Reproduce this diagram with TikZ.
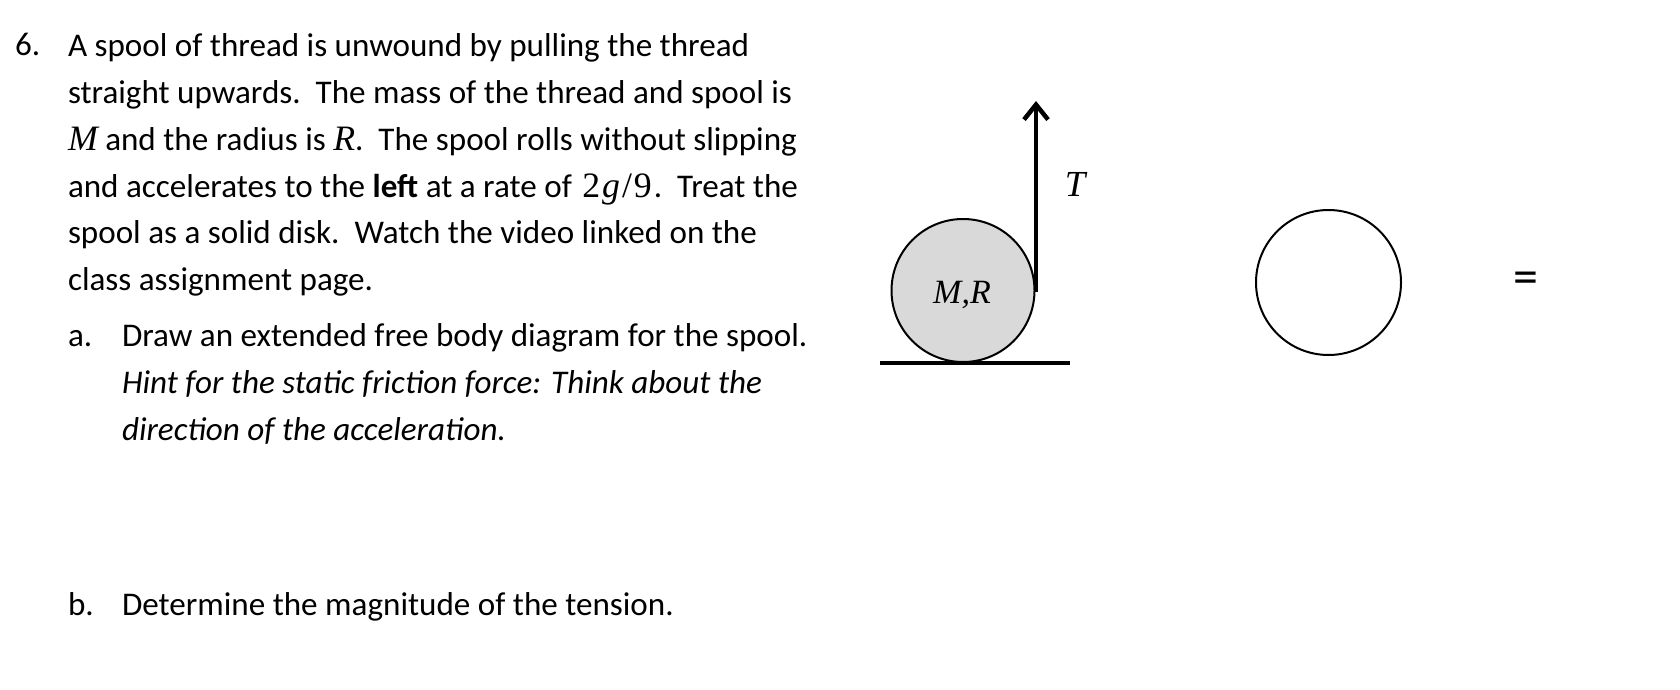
\documentclass[tikz,border=0pt]{standalone}
\usepackage{fontspec}
\setmainfont{Carlito}
\newfontfamily\mathserif[Scale=1.08]{Liberation Serif}
\usetikzlibrary{arrows.meta}

\newcommand{\mvar}[1]{{\mathserif\itshape #1}}

\begin{document}
\begin{tikzpicture}[x=1pt,y=-1pt,inner sep=0pt,outer sep=0pt,
textline/.style={anchor=base west,align=left,font=\fontsize{33.1}{46.7}\selectfont},
spoolcircle/.style={draw,circle,minimum size=143pt,line width=2pt},
forcearrow/.style={-{Straight Barb[length=15pt,width=24pt,line width=4.5pt]},line width=4pt},
symlabel/.style={font=\fontsize{31.5}{36}\selectfont\mathserif\itshape}]
\useasboundingbox (0,0) rectangle (1680,690);
\draw (15,56) node[textline] (num6) {6.};
\draw (68,55) node[textline,anchor=north west,yshift=21pt] (stem) {A spool of thread is unwound by pulling the thread\\
straight upwards.\ \ The mass of the thread and spool is\\
\mvar{M} and the radius is \mvar{R}.\ \ The spool rolls without slipping\\
and accelerates to the \textbf{left} at a rate of\hspace{3pt} {\mathserif 2\hspace{2pt}\mvar{g}\hspace{2pt}/\hspace{2pt}9}\hspace{2pt}.\ \ Treat the\\
spool as a solid disk.\ \ Watch the video linked on the\\
class assignment page.};
\draw (68,346) node[textline] (numa) {a.};
\draw (122,348) node[textline,anchor=north west,yshift=24pt] (parta) {Draw an extended free body diagram for the spool.\\
\textit{Hint for the static friction force: Think about the}\\
\textit{direction of the acceleration.}};
\draw (68,615) node[textline] (numb) {b.};
\draw (122,615) node[textline] (partb) {Determine the magnitude of the tension.};
% spool with thread
\draw (963,290.5) node[spoolcircle,fill=black!15] (spool) {};
\draw (962,303) node[symlabel,anchor=base] (massradius) {M,R};
\draw (1075,196) node[symlabel,anchor=base,font=\fontsize{34}{36}\selectfont\mathserif\itshape] (tension) {T};
\coordinate (threadend) at (1036,101);
\coordinate (threadstart) at (1036,292);
\draw[forcearrow] (threadstart) -- (threadend);
\coordinate (groundleft) at (880,363);
\coordinate (groundright) at (1070,363);
\draw[line width=4pt] (groundleft) -- (groundright);
% blank circle and equals sign
\draw (1328.5,282.5) node[spoolcircle,minimum size=145pt] (blank) {};
\draw (1526,283) node[font=\fontsize{50}{54}\selectfont] (equals) {=};
\end{tikzpicture}
\end{document}
